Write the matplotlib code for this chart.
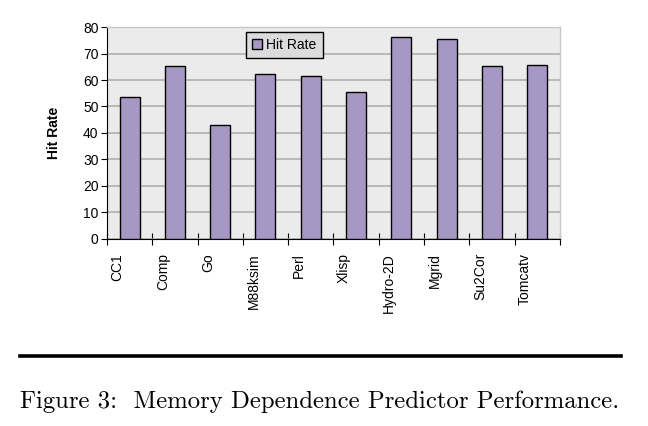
import numpy as np
import matplotlib
matplotlib.use('Agg')
import matplotlib.pyplot as plt
import matplotlib.transforms as mtransforms
from matplotlib.lines import Line2D

plt.rcParams['font.family'] = ['Liberation Sans', 'DejaVu Sans']

# 数据
benchmarks = ['CC1', 'Comp', 'Go', 'M88ksim', 'Perl', 'Xlisp',
              'Hydro-2D', 'Mgrid', 'Su2Cor', 'Tomcatv']
hit_rate = [53.7, 65.2, 43.2, 62.4, 61.4, 55.4, 76.1, 75.6, 65.2, 65.7]
yticks = [0, 10, 20, 30, 40, 50, 60, 70, 80]
caption = 'Figure 3:  Memory Dependence Predictor Performance.'

fig = plt.figure(figsize=(6.48, 4.26), dpi=100)
ax = fig.add_axes([0.165, 0.439, 0.699, 0.4976])
ax.set_facecolor('#ebebeb')

x = np.arange(len(benchmarks))
ax.bar(x, hit_rate, width=0.44, color='#a797c5', edgecolor='black',
       linewidth=1.0, label='Hit Rate', zorder=3)

ax.set_xlim(-0.5, len(benchmarks) - 0.5)
ax.set_ylim(0, 80)
ax.set_yticks(yticks)
ax.tick_params(axis='y', direction='out', length=4, width=0.8, labelsize=10, pad=2)
ax.yaxis.grid(True, color='#b0b0b0', linewidth=1.2, zorder=0)
ax.set_axisbelow(True)

# x 刻度放在类别边界
ax.set_xticks(np.arange(len(benchmarks) + 1) - 0.5)
ax.set_xticklabels([])
ax.tick_params(axis='x', direction='inout', length=8, width=0.8)

# 类别标签（竖排，向左稍偏）
offset = mtransforms.ScaledTranslation(-12 / 100, -14 / 100, fig.dpi_scale_trans)
trans = mtransforms.blended_transform_factory(ax.transData, ax.transAxes) + offset
for xi, name in zip(x, benchmarks):
    ax.text(xi, 0, name, rotation=90, ha='center', va='top', fontsize=10,
            transform=trans)

for side in ['top', 'right']:
    ax.spines[side].set_color('#c8c8c8')
    ax.spines[side].set_linewidth(1.0)
ax.spines['left'].set_color('black')
ax.spines['bottom'].set_color('black')

ax.set_ylabel('Hit Rate', fontsize=10, fontweight='bold', labelpad=16)

leg = ax.legend(loc='upper left', bbox_to_anchor=(0.307, 0.978), fontsize=10,
                frameon=True, fancybox=False, handlelength=0.7, handleheight=0.7,
                handletextpad=0.3, borderpad=0.45, borderaxespad=0)
leg.get_frame().set_facecolor('#dcdcdc')
leg.get_frame().set_edgecolor('black')
leg.get_frame().set_linewidth(1.0)
leg.get_frame().set_alpha(1)

# 标题分隔线和图注
fig.add_artist(Line2D([20 / 648, 621 / 648], [1 - 356 / 426, 1 - 356 / 426],
                      color='black', linewidth=2.6, transform=fig.transFigure))
fig.text(20 / 648, 1 - 408 / 426, caption, fontsize=17.8, family='cmr10',
         ha='left', va='baseline')

plt.savefig('out.png', dpi=100)
